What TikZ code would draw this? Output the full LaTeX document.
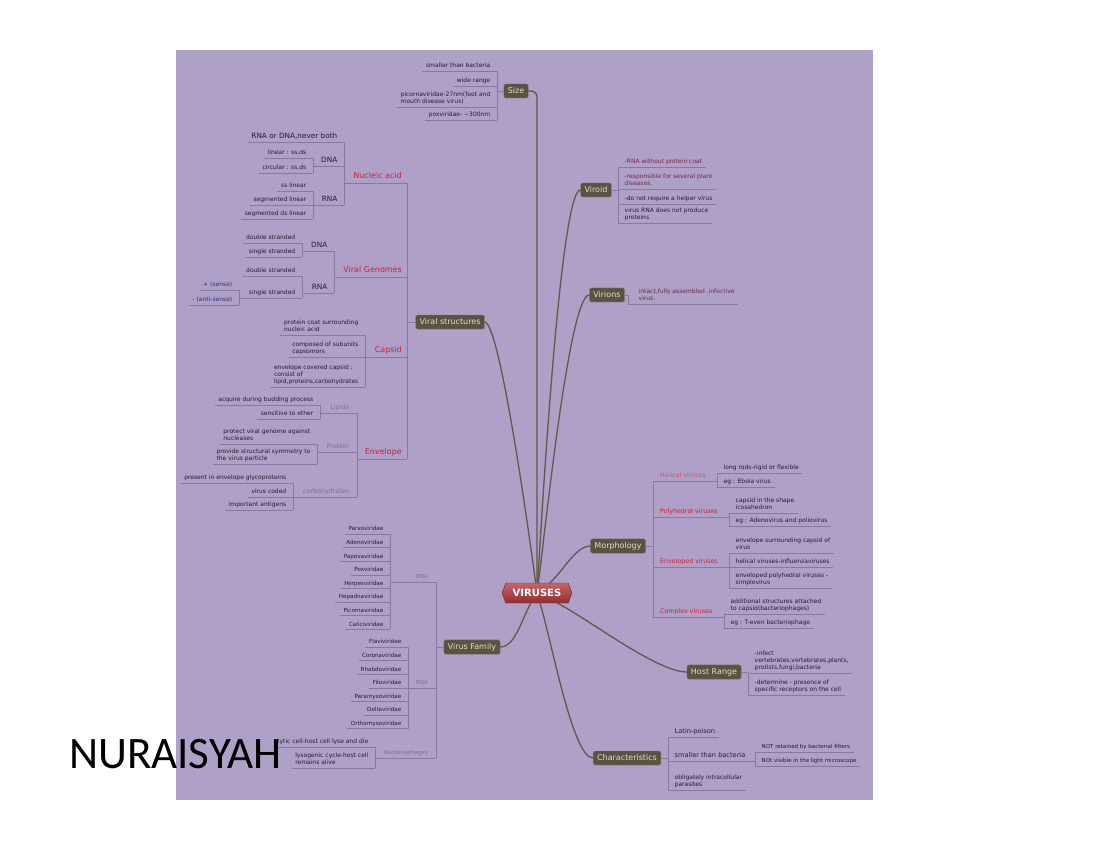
\documentclass[tikz,border=0pt]{standalone}
\usepackage{fontspec}
\setmainfont{DejaVu Sans}
\newfontfamily\nurfont{Carlito}
\usepackage{tikz}
\usetikzlibrary{shapes.symbols}
\usetikzlibrary{shadows}
\usetikzlibrary{calc}

\definecolor{bgpurple}{RGB}{174,160,199}
\definecolor{roottop}{RGB}{200,100,100}
\definecolor{rootbot}{RGB}{145,45,50}
\definecolor{rootedge}{RGB}{115,35,40}
\definecolor{topicfill}{RGB}{90,82,66}
\definecolor{topicedge}{RGB}{140,132,112}
\definecolor{topictext}{RGB}{232,220,188}
\definecolor{trunkcol}{RGB}{96,90,78}
\definecolor{twigcol}{RGB}{136,122,158}
\definecolor{subred}{RGB}{215,30,55}
\definecolor{pinkred}{RGB}{205,85,115}
\definecolor{subgrey}{RGB}{125,115,135}
\definecolor{leafcol}{RGB}{38,28,48}
\definecolor{leafmaroon}{RGB}{118,40,72}
\definecolor{leafnavy}{RGB}{52,48,115}

\begin{document}
\begin{tikzpicture}[x=1pt, y=-1pt,
        root/.style={shape=signal, signal to=east and west, signal pointer angle=140, draw=rootedge, top color=roottop, bottom color=rootbot, text=white, font=\bfseries\fontsize{10}{12}\selectfont, inner xsep=7pt, minimum height=20pt},
        topic/.style={draw=topicedge, fill=topicfill, text=topictext, rounded corners=2pt, font=\fontsize{8}{9}\selectfont, inner xsep=4pt, minimum height=14pt, drop shadow={shadow xshift=0.7pt, shadow yshift=-0.7pt, opacity=0.3}},
        sub/.style={text=subred, font=\fontsize{8}{9.5}\selectfont, inner xsep=4pt, inner ysep=1pt, execute at end node=\strut},
        subsm/.style={sub, font=\fontsize{6.3}{7.3}\selectfont},
        grp/.style={sub, text=subgrey, font=\fontsize{6.3}{7.3}\selectfont},
        fgrp/.style={grp, font=\fontsize{5.6}{6.6}\selectfont},
        leaf/.style={text=leafcol, font=\fontsize{6}{7.3}\selectfont, align=left, inner xsep=3.5pt, inner ysep=1pt, execute at end node=\strut},
        leafbig/.style={leaf, font=\fontsize{7.3}{8.5}\selectfont},
        leafmid/.style={leaf, font=\fontsize{6.6}{7.8}\selectfont},
        leafsm/.style={leaf, font=\fontsize{5.5}{6.5}\selectfont},
        fam/.style={leaf, font=\fontsize{5.6}{6.6}\selectfont},
        lft/.style={anchor=south east},
        rgt/.style={anchor=south west},
        twig/.style={draw=twigcol, line width=0.6pt},
        trunk/.style={draw=trunkcol, line width=1.3pt, line cap=round}]

        \useasboundingbox (0,0) rectangle (1100,850);
        \fill[white] (0,0) rectangle (1100,850);
        \fill[bgpurple] (176,50) rectangle (873,800);

        \node[root] (v) at (537,593) {VIRUSES};

        \node[topic] (size) at (516,91) {Size};
        \node[topic] (viroid) at (596,190) {Viroid};
        \node[topic] (virions) at (607,295) {Virions};
        \node[topic] (vs) at (450,322) {Viral structures};
        \node[topic] (morph) at (618,546) {Morphology};
        \node[topic] (vf) at (472,647) {Virus Family};
        \node[topic] (host) at (714,672) {Host Range};
        \node[topic] (chr) at (627,758) {Characteristics};

        \draw[trunk, rounded corners=6pt] (v) |- (size.east);
        \draw[trunk] (v) .. controls +(5,-80) and +(-20,0) .. (viroid.west);
        \draw[trunk] (v) .. controls +(8,-60) and +(-20,0) .. (virions.west);
        \draw[trunk] (v) .. controls +(-8,-60) and +(15,0) .. (vs.east);
        \draw[trunk] (v) .. controls +(25,-20) and +(-15,0) .. (morph.west);
        \draw[trunk] (v) .. controls +(-15,25) and +(15,0) .. (vf.east);
        \draw[trunk] (v) .. controls +(50,25) and +(-30,0) .. (host.west);
        \draw[trunk] (v) .. controls +(15,50) and +(-20,0) .. (chr.west);

        \coordinate (szB) at (497,0);
        \node[leaf, lft] (sz1) at (494,71) {smaller than bacteria};
        \node[leaf, lft] (sz2) at (494,86) {wide range};
        \node[leaf, lft] (sz3) at (494,107) {picornaviridae-27nm(foot and\\mouth disease virus)};
        \node[leaf, lft] (sz4) at (494,120) {poxviridae- \textasciitilde300nm};

        \coordinate (vsB) at (407,0);
        \node[sub, lft] (na) at (406,183) {Nucleic acid};
        \node[sub, lft] (vg) at (406,277) {Viral Genomes};
        \node[sub, lft] (cp) at (406,357) {Capsid};
        \node[sub, lft] (ev) at (406,459) {Envelope};

        \coordinate (naB) at (344,0);
        \coordinate (naDB) at (313,0);
        \coordinate (naRB) at (313,0);
        \node[leafbig, lft] (na1) at (341,142) {RNA or DNA,never both};
        \node[leafbig, lft] (naD) at (341,166) {DNA};
        \node[leafbig, lft] (naR) at (341,205) {RNA};
        \node[leaf, lft] (nd1) at (310,158) {linear : ss,ds};
        \node[leaf, lft] (nd2) at (310,173) {circular : ss,ds};
        \node[leaf, lft] (nr1) at (310,191) {ss linear};
        \node[leaf, lft] (nr2) at (310,205) {segmented linear};
        \node[leaf, lft] (nr3) at (310,219) {segmented ds linear};

        \coordinate (vgB) at (334,0);
        \coordinate (vgDB) at (302,0);
        \coordinate (vgRB) at (302,0);
        \coordinate (grB) at (239,0);
        \node[leafbig, lft] (vgD) at (331,251) {DNA};
        \node[leafbig, lft] (vgR) at (331,293) {RNA};
        \node[leaf, lft] (gd1) at (299,243) {double stranded};
        \node[leaf, lft] (gd2) at (299,257) {single stranded};
        \node[leaf, lft] (gr1) at (299,276) {double stranded};
        \node[leaf, lft] (gr2) at (299,298) {single stranded};
        \node[leaf, lft, text=leafnavy] (gs1) at (236,290) {+ (sense)};
        \node[leaf, lft, text=leafnavy] (gs2) at (236,305) {- (anti-sense)};

        \coordinate (cpB) at (365,0);
        \node[leaf, lft] (c1) at (362,335) {protein coat surrounding\\nucleic acid};
        \node[leaf, lft] (c2) at (362,357) {composed of subunits\\capsomors};
        \node[leaf, lft] (c3) at (362,387) {envelope covered capsid :\\consist of\\lipid,proteins,carbohydrates};

        \coordinate (evB) at (357,0);
        \coordinate (lpB) at (320,0);
        \coordinate (prB) at (317,0);
        \coordinate (cbB) at (293,0);
        \node[grp, lft] (lp) at (353,413) {Lipids};
        \node[grp, lft] (pr) at (353,452) {Protein};
        \node[grp, lft] (cb) at (353,497) {carbohydrates};
        \node[leaf, lft] (l1) at (317,405) {acquire during budding process};
        \node[leaf, lft] (l2) at (317,419) {sensitive to ether};
        \node[leaf, lft] (p1) at (314,444) {protect viral genome against\\nucleases};
        \node[leaf, lft] (p2) at (314,464) {provide structural symmetry to\\the virus particle};
        \node[leaf, lft] (b1) at (290,483) {present in envelope glycoproteins};
        \node[leaf, lft] (b2) at (290,497) {virus coded};
        \node[leaf, lft] (b3) at (290,510) {important antigens};

        \coordinate (vdB) at (618,0);
        \node[leaf, rgt, text=leafmaroon] (vd1) at (621,167) {-RNA without protein coat};
        \node[leaf, rgt, text=leafmaroon] (vd2) at (621,189) {-responsible for several plant\\diseases.};
        \node[leaf, rgt] (vd3) at (621,204) {-do not require a helper virus};
        \node[leaf, rgt] (vd4) at (621,223) {virus RNA does not produce\\proteins};

        \coordinate (vnB) at (628,0);
        \node[leaf, rgt, text=leafmaroon] (vn1) at (635,304) {intact,fully assembled ,infective\\virus.};

        \coordinate (mpB) at (653,0);
        \coordinate (hvB) at (717,0);
        \coordinate (phB) at (729,0);
        \coordinate (enB) at (729,0);
        \coordinate (cxB) at (724,0);
        \node[subsm, rgt, text=pinkred] (hv) at (656,481) {Helical viruses};
        \node[subsm, rgt] (ph) at (656,517) {Polyhedral viruses};
        \node[subsm, rgt] (en) at (656,567) {Enveloped viruses};
        \node[subsm, rgt] (cx) at (656,617) {Complex viruses};
        \node[leaf, rgt] (h1) at (720,473) {long rods-rigid or flexible};
        \node[leaf, rgt] (h2) at (720,487) {eg : Ebola virus};
        \node[leaf, rgt] (y1) at (732,513) {capsid in the shape\\icosahedron};
        \node[leaf, rgt] (y2) at (732,526) {eg : Adenovirus and poliovirus};
        \node[leaf, rgt] (e1) at (732,553) {envelope surrounding capsid of\\virus};
        \node[leaf, rgt] (e2) at (732,567) {helical viruses-influenzaviruses};
        \node[leaf, rgt] (e3) at (732,588) {enveloped polyhedral viruses -\\simplevirus};
        \node[leaf, rgt] (x1) at (727,614) {additional structures attached\\to capsid(bacteriophages)};
        \node[leaf, rgt] (x2) at (727,628) {eg : T-even bacteriophage};

        \coordinate (vfB) at (436,0);
        \coordinate (fdB) at (390,0);
        \coordinate (frB) at (408,0);
        \coordinate (fbB) at (375,0);
        \node[fgrp, lft] (fd) at (432,582) {DNA};
        \node[fgrp, lft] (fr) at (432,688) {RNA};
        \node[fgrp, lft] (fb) at (432,758) {Bacteriophages};
        \foreach \n [count=\i] in {Parvoviridae,Adenoviridae,Papovaviridae,Poxviridae,Herpesviridae,Hepadnaviridae,Picornaviridae,Caliciviridae}
            \node[fam, lft] (d\i) at (387,520.4+13.6*\i) {\n};
        \foreach \n [count=\i] in {Flaviviridae,Coronaviridae,Rhabdoviridae,Filoviridae,Paramyxoviridae,Deltaviridae,Orthomyxoviridae}
            \node[fam, lft] (r\i) at (405,633.4+13.6*\i) {\n};
        \node[leaf, lft] (bp1) at (372,747) {lytic cell-host cell lyse and die};
        \node[leaf, lft] (bp2) at (372,768) {lysogenic cycle-host cell\\remains alive};

        \coordinate (hrB) at (748,0);
        \node[leaf, rgt] (hr1) at (751,673) {-infect\\vertebrates,vertebrates,plants,\\protists,fungi,bacteria};
        \node[leaf, rgt] (hr2) at (751,695) {-determine - presence of\\specific receptors on the cell};

        \coordinate (chB) at (668,0);
        \coordinate (csB) at (755,0);
        \node[leafmid, rgt] (ch1) at (671,737) {Latin-poison};
        \node[leafmid, rgt] (ch2) at (671,761) {smaller than bacteria};
        \node[leaf, rgt] (ch3) at (671,790) {obligately intracellular\\parasites};
        \node[leafsm, rgt] (cs1) at (758,752) {NOT retained by bacterial filters};
        \node[leafsm, rgt] (cs2) at (758,766) {NOt visible in the light microscope};

        \foreach \nd/\br in {sz1/szB,sz2/szB,sz3/szB,sz4/szB,na1/naB,nd1/naDB,nd2/naDB,nr1/naRB,nr2/naRB,nr3/naRB,gd1/vgDB,gd2/vgDB,gr1/vgRB,gs1/grB,gs2/grB,c1/cpB,c2/cpB,c3/cpB,l1/lpB,l2/lpB,p1/prB,p2/prB,b1/cbB,b2/cbB,b3/cbB,bp1/fbB,bp2/fbB}
            \draw[twig] (\nd.south west) -- (\nd.south west -| \br);
        \foreach \i in {1,...,8}
            \draw[twig] (d\i.south west) -- (d\i.south west -| fdB);
        \foreach \i in {1,...,7}
            \draw[twig] (r\i.south west) -- (r\i.south west -| frB);
        \foreach \nd/\br/\pa in {na/naB/vsB,vg/vgB/vsB,cp/cpB/vsB,ev/evB/vsB,naD/naDB/naB,naR/naRB/naB,vgD/vgDB/vgB,vgR/vgRB/vgB,gr2/grB/vgRB,lp/lpB/evB,pr/prB/evB,cb/cbB/evB,fd/fdB/vfB,fr/frB/vfB,fb/fbB/vfB,hv/hvB/mpB,ph/phB/mpB,en/enB/mpB,cx/cxB/mpB,ch2/csB/chB}
            \draw[twig] (\br |- \nd.south) -- (\pa |- \nd.south);
        \foreach \nd/\br in {vd1/vdB,vd2/vdB,vd3/vdB,vd4/vdB,h1/hvB,h2/hvB,y1/phB,y2/phB,e1/enB,e2/enB,e3/enB,x1/cxB,x2/cxB,hr1/hrB,hr2/hrB,ch1/chB,ch3/chB,cs1/csB,cs2/csB}
            \draw[twig] (\br |- \nd.south) -- (\nd.south east);
        \foreach \br/\tp/\bt in {szB/sz1/sz4,vsB/na/ev,naB/na1/naR,naDB/nd1/nd2,naRB/nr1/nr3,vgB/vgD/vgR,vgDB/gd1/gd2,vgRB/gr1/gr2,grB/gs1/gs2,cpB/c1/c3,evB/lp/cb,lpB/l1/l2,prB/p1/p2,cbB/b1/b3,vdB/vd1/vd4,mpB/hv/cx,hvB/h1/h2,phB/y1/y2,enB/e1/e3,cxB/x1/x2,vfB/fd/fb,fdB/d1/d8,frB/r1/r7,fbB/bp1/bp2,hrB/hr1/hr2,chB/ch1/ch3,csB/cs1/cs2}
            \draw[twig] (\br |- \tp.south) -- (\br |- \bt.south);

        \draw[twig] (size.west) -- (size.west -| szB);
        \draw[twig] (vs.west) -- (vs.west -| vsB);
        \draw[twig] (vf.west) -- (vf.west -| vfB);
        \draw[twig] (viroid.east) -- (viroid.east -| vdB);
        \draw[twig] (morph.east) -- (morph.east -| mpB);
        \draw[twig] (host.east) -- (host.east -| hrB);
        \draw[twig] (chr.east) -- (chr.east -| chB);
        \draw[twig] (virions.east) -| (vnB |- vn1.south) -- (vn1.south east);

        \node[font=\nurfont\fontsize{45}{52}\selectfont, anchor=base west, inner sep=0pt] (author) at (69,768) {NURAISYAH};
    \end{tikzpicture}
\end{document}
